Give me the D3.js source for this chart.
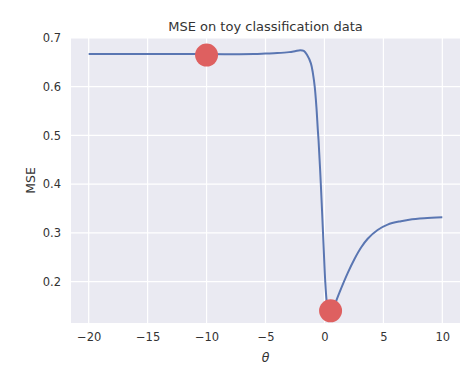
<!DOCTYPE html>
<html>
<head>
<meta charset="utf-8">
<script src="https://cdn.jsdelivr.net/npm/d3@7"></script>
<style>
  body { margin: 0; background: #fff; }
  text { font-family: "DejaVu Sans", sans-serif; fill: #333; }
</style>
</head>
<body>
<svg id="chart"></svg>
<script>
// curve (theta, mse)
var theta = [-20, -15, -10, -6, -5, -4, -3, -2.5, -2.05, -1.75, -1.47, -1.15, -0.98, -0.82, -0.68, -0.56, -0.50, -0.31, -0.12, 0.07, 0.18, 0.30, 0.45, 0.65, 0.99, 1.28, 1.98, 2.54, 3.11, 3.67, 4.51, 5.36, 6.49, 7.19, 8.46, 10];
var mse = [0.667, 0.667, 0.667, 0.667, 0.668, 0.669, 0.671, 0.673, 0.675, 0.6735, 0.665, 0.648, 0.628, 0.599, 0.558, 0.511, 0.490, 0.402, 0.300, 0.199, 0.162, 0.140, 0.132, 0.138, 0.160, 0.178, 0.218, 0.246, 0.270, 0.288, 0.306, 0.317, 0.324, 0.327, 0.330, 0.332];
// the two red markers
var markerTheta = [-10, 0.52];
var markerMse = [0.665, 0.140];
var xTicks = [-20, -15, -10, -5, 0, 5, 10];
var yTicks = [0.2, 0.3, 0.4, 0.5, 0.6, 0.7];

var W = 474, H = 375;
var margin = { top: 38, right: 14, bottom: 52, left: 71 };
var width = W - margin.left - margin.right;
var height = H - margin.top - margin.bottom;

var svg = d3.select("#chart").attr("width", W).attr("height", H);
var g = svg.append("g").attr("transform", "translate(" + margin.left + "," + margin.top + ")");

var x = d3.scaleLinear().domain([-21.5, 11.5]).range([0, width]);
var y = d3.scaleLinear().domain([0.115, 0.70]).range([height, 0]);

g.append("rect").attr("width", width).attr("height", height).attr("fill", "#eaeaf2");

// grid
g.selectAll(".vgrid").data(xTicks).enter().append("line")
  .attr("x1", d => x(d)).attr("x2", d => x(d))
  .attr("y1", 0).attr("y2", height)
  .attr("stroke", "#fff").attr("stroke-width", 1.2);
g.selectAll(".hgrid").data(yTicks).enter().append("line")
  .attr("y1", d => y(d)).attr("y2", d => y(d))
  .attr("x1", 0).attr("x2", width)
  .attr("stroke", "#fff").attr("stroke-width", 1.2);

// axes without spines / tick marks
var xAxis = g.append("g").attr("transform", "translate(0," + height + ")")
  .call(d3.axisBottom(x).tickValues(xTicks).tickSize(0).tickPadding(10).tickFormat(d => d < 0 ? "\u2212" + Math.abs(d) : d));
var yAxis = g.append("g")
  .call(d3.axisLeft(y).tickValues(yTicks).tickSize(0).tickPadding(10).tickFormat(d3.format(".1f")));
[xAxis, yAxis].forEach(a => {
  a.select(".domain").remove();
  a.selectAll("text").attr("font-size", 11.5).attr("fill", "#3a3a3a").attr("font-family", "DejaVu Sans, sans-serif");
});

var pts = theta.map((t, i) => [t, mse[i]]);
var line = d3.line().x(d => x(d[0])).y(d => y(d[1])).curve(d3.curveCatmullRom.alpha(0.5));
g.append("path").datum(pts)
  .attr("d", line)
  .attr("fill", "none")
  .attr("stroke", "#5a76b2")
  .attr("stroke-width", 2);

g.selectAll(".mk").data(markerTheta).enter().append("circle")
  .attr("cx", d => x(d))
  .attr("cy", (d, i) => y(markerMse[i]))
  .attr("r", 11.5)
  .attr("fill", "#de6060");

// title + labels
svg.append("text").attr("x", margin.left + width / 2).attr("y", 31)
  .attr("text-anchor", "middle").attr("font-size", 13).attr("fill", "#333")
  .text("MSE on toy classification data");
svg.append("text").attr("x", margin.left + width / 2).attr("y", 362)
  .attr("text-anchor", "middle").attr("font-size", 12.5).attr("font-style", "italic")
  .text("\u03b8");
svg.append("text").attr("transform", "translate(35," + (margin.top + height / 2) + ") rotate(-90)")
  .attr("text-anchor", "middle").attr("font-size", 12.5)
  .text("MSE");
</script>
</body>
</html>
